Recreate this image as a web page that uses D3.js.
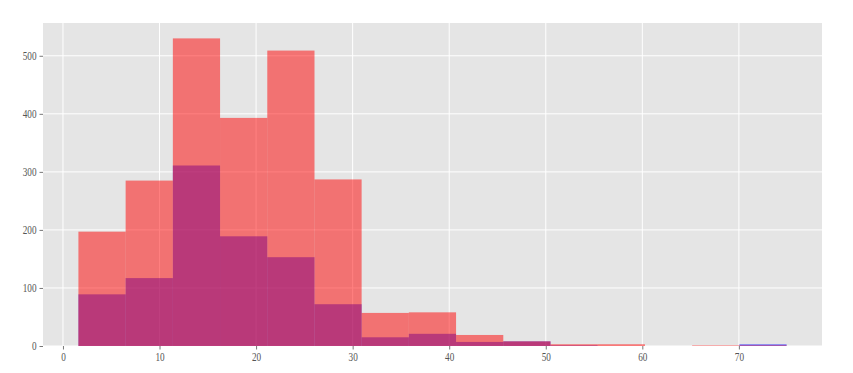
<!DOCTYPE html>
<html>
<head>
<meta charset="utf-8">
<script src="https://cdn.jsdelivr.net/npm/d3@7"></script>
<style>
  html, body { margin: 0; padding: 0; background: #fff; }
  .tick text { font-family: "Liberation Serif", serif; font-size: 11.5px; fill: #555; }
</style>
</head>
<body>
<div id="chart"></div>
<script>
// Shared bin edges (15 bins)
const binEdges = [1.6, 6.49, 11.38, 16.27, 21.16, 26.05, 30.93, 35.82, 40.71, 45.6, 50.49, 55.38, 60.27, 65.16, 70.05, 74.94];

// Counts per bin
const blueCounts = [89, 117, 311, 189, 153, 72, 15, 21, 7, 8, 1, 0, 0, 0, 3];
const redCounts = [197, 285, 530, 393, 509, 287, 57, 58, 19, 8, 3, 3, 0, 1, 1];

const xTicks = [0, 10, 20, 30, 40, 50, 60, 70];
const yTicks = [0, 100, 200, 300, 400, 500];

const width = 853, height = 373;
const margin = { top: 23, right: 31, bottom: 27, left: 43 };

function toBins(counts) {
  return counts.map((c, i) => ({ x0: binEdges[i], x1: binEdges[i + 1], count: c }));
}

function renderHistogram(container) {
  const svg = d3.select(container).append("svg")
    .attr("width", width)
    .attr("height", height);

  const lo = binEdges[0], hi = binEdges[binEdges.length - 1];
  const pad = (hi - lo) * 0.05;
  const yMax = d3.max([...redCounts, ...blueCounts]) * 1.05;

  const x = d3.scaleLinear().domain([lo - pad, hi + pad]).range([margin.left, width - margin.right]);
  const y = d3.scaleLinear().domain([0, yMax]).range([height - margin.bottom, margin.top]);

  // Panel background
  svg.append("rect")
    .attr("x", margin.left).attr("y", margin.top)
    .attr("width", width - margin.left - margin.right)
    .attr("height", height - margin.top - margin.bottom)
    .attr("fill", "#e5e5e5");

  // Grid lines
  const grid = svg.append("g");
  grid.selectAll(".gx").data(xTicks).join("line")
    .attr("x1", d => x(d)).attr("x2", d => x(d))
    .attr("y1", margin.top).attr("y2", height - margin.bottom)
    .attr("stroke", "#fff").attr("stroke-width", 1);
  grid.selectAll(".gy").data(yTicks).join("line")
    .attr("x1", margin.left).attr("x2", width - margin.right)
    .attr("y1", d => y(d)).attr("y2", d => y(d))
    .attr("stroke", "#fff").attr("stroke-width", 1);

  // Blue first, red drawn on top
  const series = [
    { bins: toBins(blueCounts), color: "#0000ff" },
    { bins: toBins(redCounts), color: "#ff0000" },
  ];
  series.forEach(s => {
    svg.append("g").selectAll("rect").data(s.bins.filter(b => b.count > 0)).join("rect")
      .attr("x", d => x(d.x0))
      .attr("width", d => x(d.x1) - x(d.x0))
      .attr("y", d => y(d.count))
      .attr("height", d => y(0) - y(d.count))
      .attr("fill", s.color)
      .attr("fill-opacity", 0.5);
  });

  // Axes
  const xAxis = svg.append("g")
    .attr("transform", `translate(0,${height - margin.bottom})`)
    .call(d3.axisBottom(x).tickValues(xTicks).tickSize(3.5).tickPadding(3.5));
  const yAxis = svg.append("g")
    .attr("transform", `translate(${margin.left},0)`)
    .call(d3.axisLeft(y).tickValues(yTicks).tickSize(3.5).tickPadding(3.5));

  [xAxis, yAxis].forEach(ax => {
    ax.select(".domain").remove();
    ax.selectAll(".tick line").attr("stroke", "#555").attr("stroke-width", 0.8);
  });

  // Narrow the serif labels a bit, like the condensed reference font
  xAxis.selectAll(".tick text").attr("transform", function () {
    return "scale(0.8,1)";
  }).attr("x", 0);
  yAxis.selectAll(".tick text").attr("transform", "scale(0.8,1)")
    .attr("x", -6.5 / 0.8);
}

renderHistogram(document.getElementById("chart"));
</script>
</body>
</html>
